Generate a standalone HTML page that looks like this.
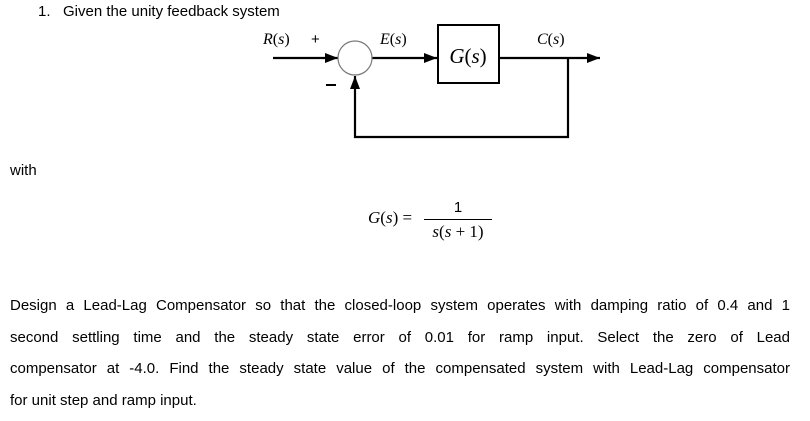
<!DOCTYPE html>
<html><head><style>
body{margin:0;width:810px;height:421px;background:#fff;position:relative;overflow:hidden;font-family:"Liberation Sans",sans-serif;color:#000}
.t{position:absolute;font-size:15px;white-space:nowrap}
.j{position:absolute;left:10px;width:780px;font-size:15px;text-align:justify;text-align-last:justify;white-space:nowrap}
</style></head><body>
<div class="t" style="left:38px;top:3px">1.&nbsp;&nbsp; Given the unity feedback system</div>
<svg style="position:absolute;left:0;top:0" width="810" height="160">
<defs><marker id="a" markerWidth="13" markerHeight="10" refX="13" refY="5" orient="auto" markerUnits="userSpaceOnUse"><path d="M0,0L13,5L0,10z"/></marker></defs>
<g stroke="#000" stroke-width="2.2" fill="none">
<line x1="273" y1="58" x2="338" y2="58" marker-end="url(#a)"/>
<line x1="372" y1="58" x2="437" y2="58" marker-end="url(#a)"/>
<line x1="499" y1="58" x2="600" y2="58" marker-end="url(#a)"/>
<polyline points="568,58 568,137 355,137 355,76" marker-end="url(#a)"/>
</g>
<circle cx="355" cy="58" r="17" fill="#fff" stroke="#777" stroke-width="1.2"/>
<rect x="438" y="25" width="61" height="58" fill="#fff" stroke="#000" stroke-width="2"/>
<text x="468" y="63" font-family="Liberation Serif" font-size="21" text-anchor="middle"><tspan font-style="italic">G</tspan>(<tspan font-style="italic">s</tspan>)</text>
<text x="263" y="44" font-family="Liberation Serif" font-size="16"><tspan font-style="italic">R</tspan>(<tspan font-style="italic">s</tspan>)</text>
<text x="311" y="44" font-family="Liberation Sans" font-size="15">+</text>
<text x="380" y="44" font-family="Liberation Serif" font-size="16"><tspan font-style="italic">E</tspan>(<tspan font-style="italic">s</tspan>)</text>
<text x="537" y="44" font-family="Liberation Serif" font-size="16"><tspan font-style="italic">C</tspan>(<tspan font-style="italic">s</tspan>)</text>
<line x1="326" y1="85" x2="336" y2="85" stroke="#000" stroke-width="2"/>
</svg>
<div class="t" style="left:10px;top:162px">with</div>
<div style="position:absolute;left:368px;top:208px;font-family:'Liberation Serif',serif;font-size:17px"><i>G</i>(<i>s</i>) =</div>
<div style="position:absolute;left:424px;top:219px;width:68px;border-top:1.3px solid #000"></div>
<div style="position:absolute;left:424px;top:199px;width:68px;text-align:center;font-size:15px">1</div>
<div style="position:absolute;left:424px;top:222px;width:68px;text-align:center;font-family:'Liberation Serif',serif;font-size:17px"><i>s</i>(<i>s</i> + 1)</div>
<div class="j" style="top:297px">Design a Lead-Lag Compensator so that the closed-loop system operates with damping ratio of 0.4 and 1</div>
<div class="j" style="top:329px">second settling time and the steady state error of 0.01 for ramp input. Select the zero of Lead</div>
<div class="j" style="top:360px">compensator at -4.0. Find the steady state value of the compensated system with Lead-Lag compensator</div>
<div class="t" style="left:10px;top:392px">for unit step and ramp input.</div>
</body></html>
